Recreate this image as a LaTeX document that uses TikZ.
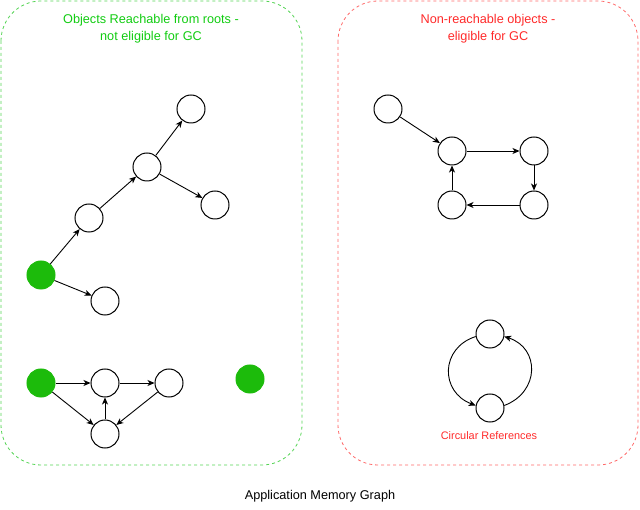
\documentclass[tikz,border=0pt]{standalone}
\usepackage{fontspec}
\setmainfont{Liberation Sans}
\usetikzlibrary{arrows.meta}
\definecolor{gfill}{HTML}{1CBB0B}
\definecolor{gtext}{HTML}{11CC11}
\definecolor{gborder}{HTML}{55D455}
\definecolor{rborder}{HTML}{FF6A6A}
\definecolor{rtext}{HTML}{FF2A2A}
\tikzset{
  obj/.style={circle, draw=black, line width=1pt, minimum size=28pt, inner sep=0pt, fill=white},
  root/.style={circle, fill=gfill, draw=gfill, line width=1pt, minimum size=28pt, inner sep=0pt},
  ref/.style={-{Stealth[length=7pt,width=6pt,inset=2pt]}, line width=0.9pt},
  region/.style={rounded corners=40pt, dashed, line width=0.8pt, dash pattern=on 3pt off 3pt},
  title/.style={font=\fontsize{12.7}{16.5}\selectfont, align=center},
}
\begin{document}
\begin{tikzpicture}[x=1pt,y=-1pt]
\useasboundingbox (0,0) rectangle (640,510);
% regions
\draw[region, draw=gborder] (1,1) rectangle (302,465);
\draw[region, draw=rborder] (338,1) rectangle (638,465);
\node[title, text=gtext] (tl) at (151,28.5) {Objects Reachable from roots -\\not eligible for GC};
\node[title, text=rtext] (tr) at (488,28.5) {Non-reachable objects -\\eligible for GC};
% left graph 1
\node[root] (g1) at (41,275) {};
\node[obj] (a1) at (89,218) {};
\node[obj] (a2) at (147,167) {};
\node[obj] (a3) at (191,109) {};
\node[obj] (a4) at (215,205) {};
\node[obj] (a5) at (105,301) {};
\draw[ref] (g1) -- (a1);
\draw[ref] (a1) -- (a2);
\draw[ref] (a2) -- (a3);
\draw[ref] (a2) -- (a4);
\draw[ref] (g1) -- (a5);
% left graph 2
\node[root] (g2) at (41,383) {};
\node[obj] (b1) at (105,383) {};
\node[obj] (b2) at (169,383) {};
\node[obj] (b3) at (105,434) {};
\draw[ref] (g2) -- (b1);
\draw[ref] (b1) -- (b2);
\draw[ref] (g2) -- (b3);
\draw[ref] (b2) -- (b3);
\draw[ref] (b3) -- (b1);
\node[root] (g3) at (250,379) {};
% right graph
\node[obj] (c0) at (388,109) {};
\node[obj] (c1) at (452,151) {};
\node[obj] (c2) at (534,151) {};
\node[obj] (c3) at (534,205) {};
\node[obj] (c4) at (452,205) {};
\draw[ref] (c0) -- (c1);
\draw[ref] (c1) -- (c2);
\draw[ref] (c2) -- (c3);
\draw[ref] (c3) -- (c4);
\draw[ref] (c4) -- (c1);
% circular
\node[obj] (ct) at (490,334) {};
\node[obj] (cb) at (490,408) {};
\draw[ref] (ct.190) .. controls (440,348) and (440,392) .. (cb.170);
\draw[ref] (cb.10) .. controls (540,392) and (540,348) .. (ct.350);
\node[text=rtext, font=\fontsize{10.9}{13}\selectfont] (cr) at (489,436) {Circular References};
\node[font=\fontsize{12.7}{15}\selectfont] (cap) at (320,496) {Application Memory Graph};
\end{tikzpicture}
\end{document}
